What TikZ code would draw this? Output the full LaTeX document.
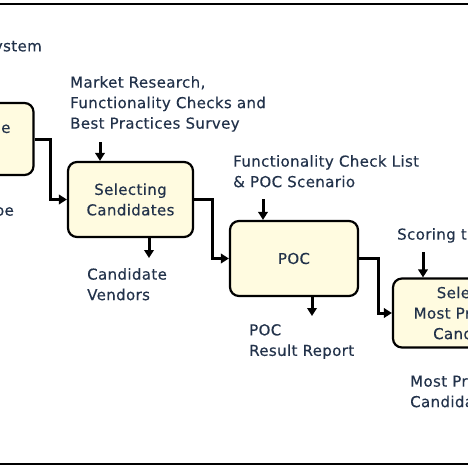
\documentclass[tikz,border=0pt]{standalone}
\usepackage{fontspec}
\usetikzlibrary{arrows.meta}
\newfontfamily\labelfont[LetterSpace=2.5,FakeBold=0.3]{DejaVu Sans}
\definecolor{inkblue}{RGB}{34,50,74}
\definecolor{boxfill}{RGB}{255,251,224}

\begin{document}
\begin{tikzpicture}[x=1pt, y=-1pt, >={Triangle[length=8pt,width=9.5pt]},
        every node/.style={font=\labelfont\fontsize{15}{20.5}\selectfont, text=inkblue},
        box/.style={draw=black, line width=2.2pt, rounded corners=9pt, fill=boxfill, align=center},
        note/.style={align=left, inner sep=0pt},
        flow/.style={->, line width=3pt}]
        \path[fill=white, use as bounding box] (0,0) rectangle (468,468);
        \clip (0,0) rectangle (468,468);
        \draw[line width=1.2pt] (0,4) -- (468,4);
        \draw[line width=1.2pt] (0,464) -- (468,464);

        \node[box, minimum width=127pt, minimum height=72pt] (b1) at (-30,139) {Define the\\Scope};
        \node[box, minimum width=125pt, minimum height=75pt] (b2) at (130.5,199.5) {Selecting\\Candidates};
        \node[box, minimum width=128pt, minimum height=75pt] (b3) at (294,258.5) {POC};
        \node[box, minimum width=160pt, minimum height=69pt] (b4) at (473,313) {Selecting\\Most Promising\\Candidate};

        \node[note, anchor=north east] (l1top) at (42,40) {Current System};
        \node[note, anchor=north west] (l2top) at (70,76) {Market Research,\\Functionality Checks and\\Best Practices Survey};
        \node[note, anchor=north west] (l3top) at (233,155) {Functionality Check List\\\& POC Scenario};
        \node[note, anchor=north west] (l4top) at (397,228) {Scoring table};

        \node[note, anchor=north east] (l1out) at (14,204) {Project Scope};
        \node[note, anchor=north west] (l2out) at (87,268) {Candidate\\Vendors};
        \node[note, anchor=north west] (l3out) at (249,324) {POC\\Result Report};
        \node[note, anchor=north west] (l4out) at (410,375) {Most Promising\\Candidate};

        \coordinate (in2) at (100,142);
        \coordinate (in3) at (263,199);
        \coordinate (in4) at (423,252);
        \coordinate (out2) at (149,258);
        \coordinate (out3) at (312,316);
        \coordinate (out4) at (474,366);

        \foreach \a/\b in {in2/b2,in3/b3,in4/b4} {
                \draw[flow] (\a) -- (\a |- \b.north);
            }
        \foreach \a/\b in {b2/out2,b3/out3,b4/out4} {
                \draw[flow] (\a.south -| \b) -- (\b);
            }
        \draw[flow] (b1.east) -- ++(16,0) |- (b2.west);
        \draw[flow] (b2.east) -- ++(18,0) |- (b3.west);
        \draw[flow] (b3.east) -- ++(19,0) |- (b4.west);
    \end{tikzpicture}
\end{document}
